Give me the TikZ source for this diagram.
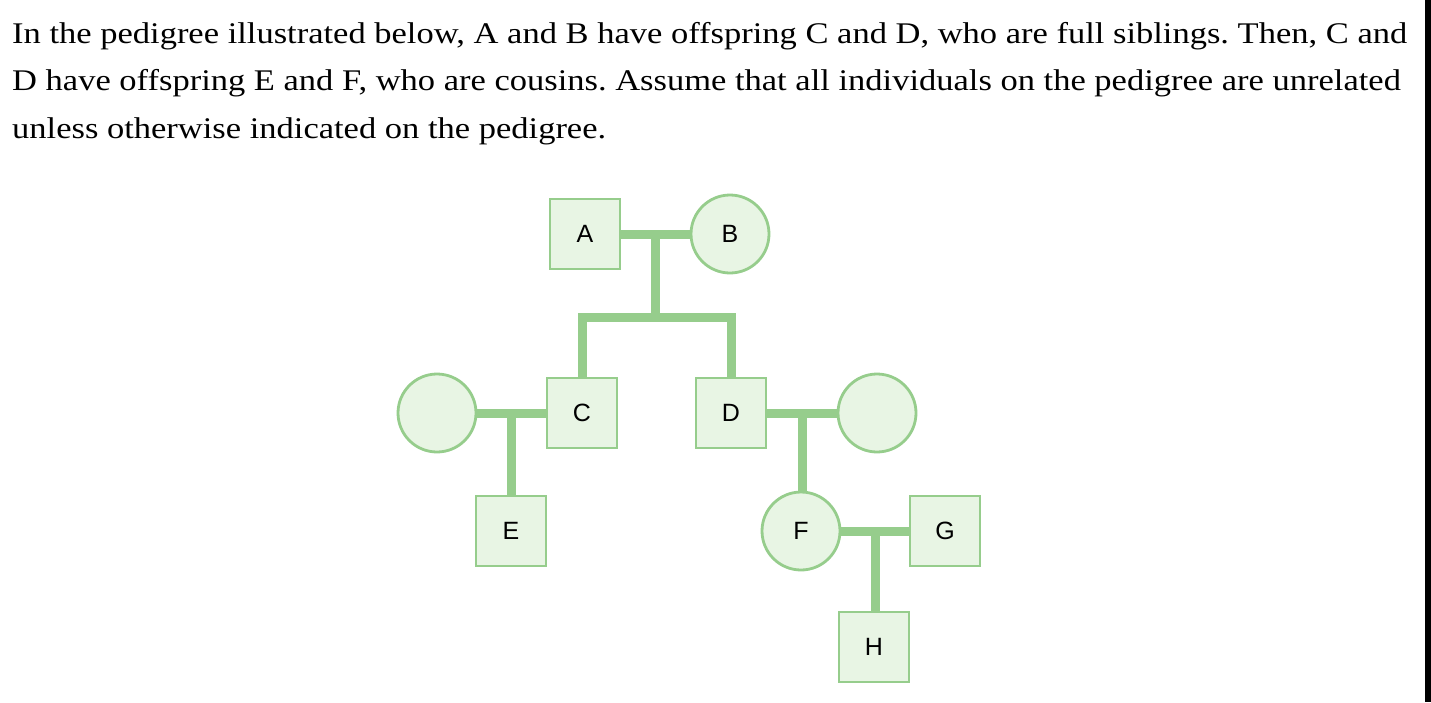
\documentclass[tikz,border=0pt]{standalone}
\usepackage{fontspec}
\setmainfont[FakeStretch=1.15]{Liberation Serif}
\newfontfamily\labelfont{Liberation Sans}
\usetikzlibrary{positioning,calc}
\definecolor{pedgreen}{RGB}{150,205,140}
\definecolor{pedfill}{RGB}{232,245,228}
\frenchspacing

\begin{document}
\begin{tikzpicture}[x=1pt,y=-1pt,
    male/.style={draw=pedgreen, fill=pedfill, line width=2.8pt, rectangle, minimum size=70pt, inner sep=0pt, font=\labelfont\fontsize{25}{25}\selectfont},
    female/.style={draw=pedgreen, fill=pedfill, line width=2.8pt, circle, minimum size=78pt, inner sep=0pt, font=\labelfont\fontsize{25}{25}\selectfont},
    bond/.style={draw=pedgreen, line width=9pt},
    textline/.style={anchor=base west, inner sep=0pt, font=\fontsize{30}{36}\selectfont}]
    \useasboundingbox (0,0) rectangle (1431,702);
    \fill[white] (0,0) rectangle (1431,702);
    \fill[black] (1425,0) rectangle (1431,702);

    \node[textline] (line1) at (12,43) {In the pedigree illustrated below, A and B have offspring C and D, who are full siblings. Then, C and};
    \node[textline] (line2) at (12,90.5) {D have offspring E and F, who are cousins. Assume that all individuals on the pedigree are unrelated};
    \node[textline] (line3) at (12,138) {unless otherwise indicated on the pedigree.};

    % generation I
    \node[male] (A) at (585,234) {A};
    \node[female] (B) at (730,234) {B};
    % generation II
    \node[female] (cmate) at (437,413) {};
    \node[male] (C) at (582,413) {C};
    \node[male] (D) at (731,413) {D};
    \node[female] (dmate) at (877,413) {};
    % generation III
    \node[male] (E) at (511,531) {E};
    \node[female] (F) at (801,531) {F};
    \node[male] (G) at (945,531) {G};
    % generation IV
    \node[male] (H) at (874,647) {H};

    \coordinate (ab) at ($(A.east)!0.5!(B.west)$);
    \coordinate (sibs) at (ab |- 0,317);
    \coordinate (cc) at ($(cmate.east)!0.5!(C.west)$);
    \coordinate (dd) at ($(D.east)!0.5!(dmate.west)$);
    \coordinate (fg) at ($(F.east)!0.5!(G.west)$);

    \draw[bond] (A) -- (B);
    \draw[bond] (ab) -- (sibs);
    \draw[bond] (C.north) |- (sibs) -| (D.north);
    \draw[bond] (cmate) -- (C);
    \draw[bond] (cc) -- (cc |- E.north);
    \draw[bond] (D) -- (dmate);
    \draw[bond] (dd) -- (dd |- F.north);
    \draw[bond] (F) -- (G);
    \draw[bond] (fg) -- (fg |- H.north);
\end{tikzpicture}
\end{document}
